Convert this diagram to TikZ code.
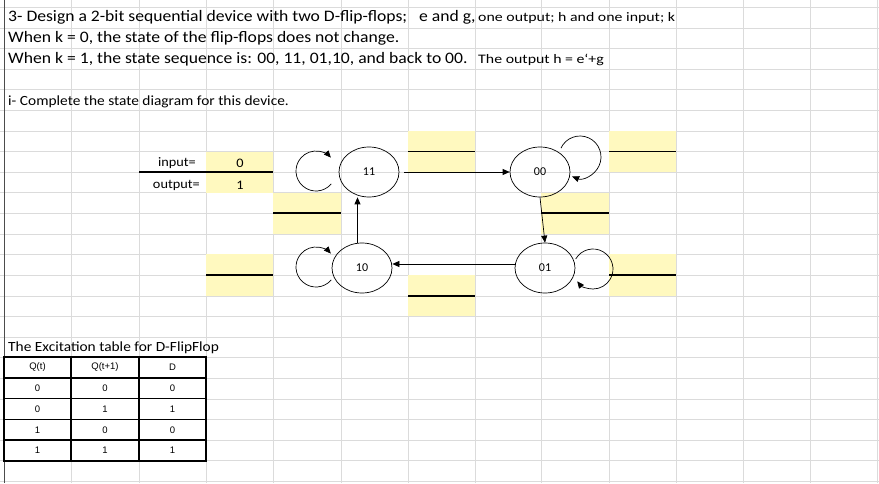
\documentclass[tikz,border=0pt]{standalone}
\usepackage{fontspec}
\setmainfont{Carlito}
\newfontfamily\cellfont{Liberation Sans}
\usetikzlibrary{arrows.meta,shapes.geometric,calc}
\begin{document}
\begin{tikzpicture}[x=1pt,y=1pt,
  grid/.style={draw=black!14,line width=0.6pt},
  fillbox/.style={fill=orange!20!yellow!25,draw=none},
  bar/.style={line width=1.6pt},
  state/.style={draw,ellipse,minimum width=60pt,minimum height=50pt,inner sep=0pt,font=\fontsize{12}{14}\selectfont,line width=0.7pt},
  conn/.style={line width=0.7pt,-{Triangle[length=7pt,width=6pt]}},
  lbl/.style={inner sep=0pt,font=\fontsize{13}{15}\selectfont,transform shape,xscale=1.1},
  big/.style={anchor=base west,inner sep=0pt,font=\fontsize{16}{18}\selectfont,transform shape,xscale=1.1},
  small/.style={anchor=base west,inner sep=0pt,font=\fontsize{13}{15}\selectfont,transform shape,xscale=1.22},
  mid/.style={anchor=base west,inner sep=0pt,font=\fontsize{14}{16}\selectfont,transform shape,xscale=1.1},
  tcell/.style={inner sep=0pt,font=\cellfont\fontsize{9.5}{11}\selectfont}]
\useasboundingbox (0,0) rectangle (879,483);
\fill[white] (0,0) rectangle (879,483);
% grid
\foreach \x in {71,139,206,273,341,408,475,541,609,676,743,810,877}
  \draw[grid] (\x,0) -- (\x,483);
\foreach \k in {0,...,23} \draw[grid] (0,{483-7.4-20.6*\k}) -- (879,{483-7.4-20.6*\k});
\draw[black!70,line width=1pt] (4,483) -- (4,0);
% orange boxes
\foreach \a/\b/\c/\d in {408/475/352/311, 609/676/352/311, 273/341/290/249, 541/609/290/249,
   206/273/229/187, 609/676/229/187, 408/475/208/167, 206/273/331/290}
  \fill[fillbox] (\a,\c) rectangle (\b,\d);
\foreach \a/\b/\y in {408/475/331.4, 609/676/331.4, 273/341/270, 541/609/270, 206/273/208, 609/676/208, 408/475/187}
  \draw[bar] (\a,\y) -- (\b,\y);
\draw[bar] (139,311) -- (273,311);
% texts
\node[big] (t1) at (8,461) {3- Design a 2-bit sequential device with two D-flip-flops;\ \ \ e and g,};
\node[small] (t1b) at (478,461) {one output; h and one input; k};
\node[big] (t2) at (8,440) {When k = 0, the state of the flip-flops does not change.};
\node[big] (t3) at (8,419) {When k = 1, the state sequence is: 00, 11, 01,10, and back to 00.};
\node[small] (t3b) at (478,419) {The output h = e`+g};
\node[mid] (t4) at (8,377) {i- Complete the state diagram for this device.};
\node[lbl,anchor=east] (in) at (196,320) {input=};
\node[lbl,anchor=east] (out) at (200,298) {output=};
\node[lbl] (in0) at (240,320) {0};
\node[lbl] (out1) at (240,298) {1};
% states
\node[state] (s11) at (369,311) {11};
\node[state] (s00) at (540,311) {00};
\node[state] (s01) at (545,215) {01};
\node[state] (s10) at (362,215) {10};
\draw[conn] (s11.east |- 0,311) ++(5,0) -- (s00.west |- 0,311);
\draw[conn] (s00.south) -- (s01.north);
\draw[conn] (s01.west |- 0,219) -- (s10.east |- 0,219);
\draw[conn] (s10.north -| 357.5,0) -- (s11.south -| 357.5,0);
\coordinate (l11) at (316,312);
\coordinate (l10) at (316,216);
\coordinate (l00) at (580,326);
\coordinate (l01) at (593,214);
\draw[conn] ($(l11)+(-40:20)$) arc[start angle=-40,end angle=-318,radius=20];
\draw[conn] ($(l10)+(-40:20)$) arc[start angle=-40,end angle=-318,radius=20];
\draw[conn] ($(l00)+(155:21)$) arc[start angle=155,end angle=-112,radius=21];
\draw[conn] ($(l01)+(150:20)$) arc[start angle=150,end angle=-142,radius=20];
% excitation table
\node[mid] (t5) at (8,132) {The Excitation table for D-FlipFlop};
\fill[white] (5,22) rectangle (206,126);
\foreach \k in {0,...,5} \draw[line width=1.5pt] (4,{126-20.8*\k}) -- (206,{126-20.8*\k});
\foreach \x in {4,71,139,206} \draw[line width=1.5pt] (\x,126.7) -- (\x,21.3);
\foreach \r/\a/\b/\c [count=\i from 0] in {0/Q(t)/Q(t+1)/D, 1/0/0/0, 2/0/1/1, 3/1/0/0, 4/1/1/1} {
  \node[tcell] (ta\i) at (37.5,{115.6-20.8*\r}) {\a};
  \node[tcell] (tb\i) at (105,{115.6-20.8*\r}) {\b};
  \node[tcell] (tc\i) at (172.5,{115.6-20.8*\r}) {\c};
}
\end{tikzpicture}
\end{document}
